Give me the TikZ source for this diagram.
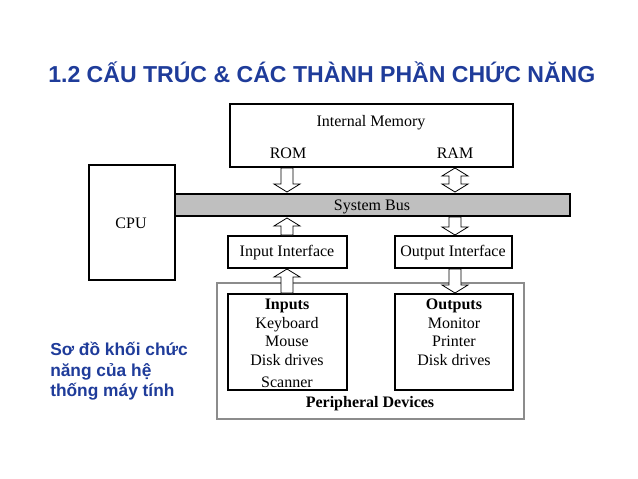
\documentclass[tikz,border=0pt]{standalone}
\usepackage{fontspec}
\setmainfont{Liberation Serif}
\newfontfamily\hd{Liberation Sans}
\definecolor{ttl}{HTML}{1F3C9A}
\newcommand{\barrowdown}[3]{% x, ytop, ybot
  \draw[blockarr] (#1-6,#2) -- (#1+6,#2) -- (#1+6,#3-8) -- (#1+13,#3-8) -- (#1,#3) -- (#1-13,#3-8) -- (#1-6,#3-8) -- cycle;}
\newcommand{\barrowup}[3]{% x, ybot, ytop
  \draw[blockarr] (#1-6,#2) -- (#1+6,#2) -- (#1+6,#3+8) -- (#1+13,#3+8) -- (#1,#3) -- (#1-13,#3+8) -- (#1-6,#3+8) -- cycle;}
\begin{document}
\begin{tikzpicture}[x=0.75pt,y=-0.75pt,
  box/.style={draw,line width=0.8pt,inner sep=0},
  blockarr/.style={draw,fill=white,line width=0.6pt},
  lbl/.style={font=\fontsize{12}{13.9}\selectfont,inner sep=0}]
\useasboundingbox (0,0) rectangle (638,478);
\node[anchor=west,text=ttl,font=\hd\bfseries\fontsize{17.3}{20}\selectfont,inner sep=0] (title) at (48,72) {1.2 CẤU TRÚC \& CÁC THÀNH PHẦN CHỨC NĂNG};
% memory
\draw[box] (230,104) rectangle (513,167);
\node[lbl] (im) at (371,123) {Internal Memory};
\node[lbl] (rom) at (288,153) {ROM};
\node[lbl] (ram) at (455,153) {RAM};
% CPU
\draw[box] (89,165) rectangle (175,280);
\node[lbl] (cpu) at (131,223) {CPU};
% bus
\draw[box,fill=black!25] (175,194) rectangle (570,216);
\node[lbl] (bus) at (372,207) {System Bus};
% interfaces
\draw[box] (228,236) rectangle (347,268);
\node[lbl] (ii) at (287,253) {Input Interface};
\draw[box] (395,236) rectangle (512,268);
\node[lbl] (oi) at (453,253) {Output Interface};
% peripheral
\draw[black!45,line width=0.8pt] (217,283) rectangle (524,419);
\draw[box,fill=white] (228,294) rectangle (347,390);
\draw[box,fill=white] (395,294) rectangle (513,390);
\node[lbl,align=center,anchor=north] (inp) at (287,299) {\textbf{Inputs}\\Keyboard\\Mouse\\Disk drives\\[3pt]Scanner};
\node[lbl,align=center,anchor=north] (outp) at (454,299) {\textbf{Outputs}\\Monitor\\Printer\\Disk drives};
\node[lbl,font=\bfseries\fontsize{12}{14}\selectfont] (pd) at (370,404) {Peripheral Devices};
% arrows
\barrowdown{287}{168}{192}
\draw[blockarr] (455,168) -- (468,176) -- (461,176) -- (461,184) -- (468,184) -- (455,192) -- (442,184) -- (449,184) -- (449,176) -- (442,176) -- cycle;
\barrowup{287}{235}{218}
\barrowdown{455}{217}{235}
\barrowup{287}{293}{269}
\barrowdown{455}{269}{293}
% left caption
\node[anchor=north west,text=ttl,align=left,font=\hd\bfseries\fontsize{13}{15.4}\selectfont,inner sep=0] (cap) at (50,342) {Sơ đồ khối chức\\năng của hệ\\thống máy tính};
\end{tikzpicture}
\end{document}
